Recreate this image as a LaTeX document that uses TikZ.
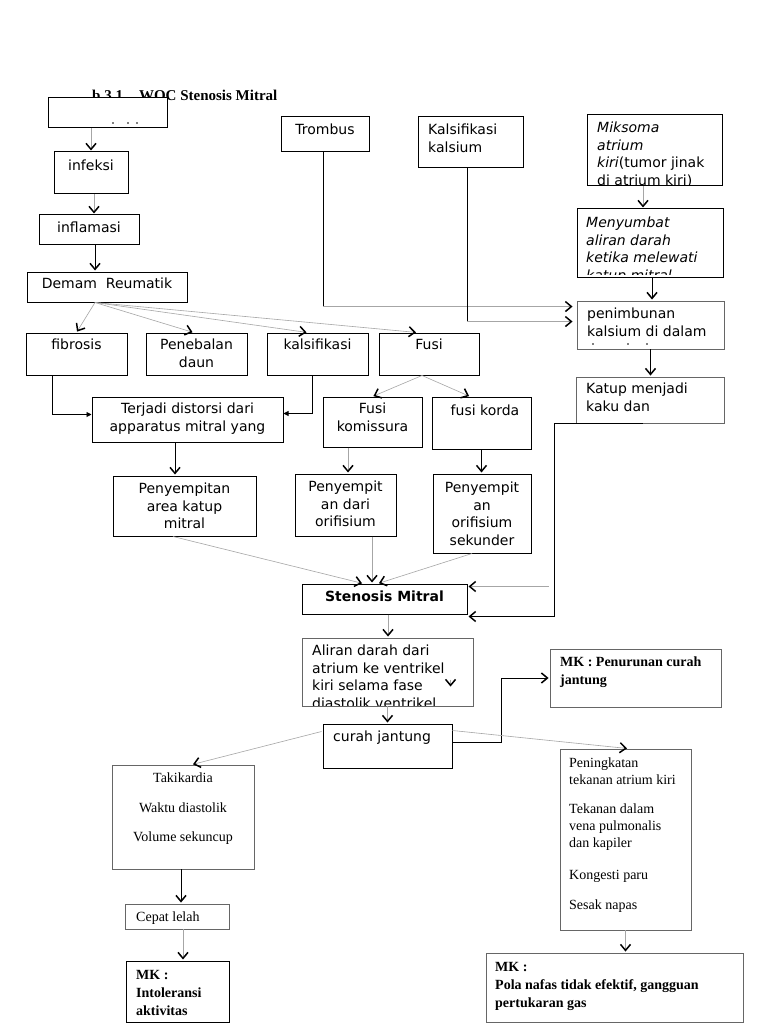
\documentclass[tikz,border=0pt]{standalone}
\usepackage{fontspec}
\setmainfont{Liberation Serif}
\setsansfont{DejaVu Sans}
\usetikzlibrary{arrows.meta,fit,calc}
\tikzset{
  bxk/.style={draw=black, line width=1pt, fill=white, inner sep=0pt},
  bxg/.style={draw=black!60, line width=0.9pt, fill=white, inner sep=0pt},
  st/.style={font=\sffamily\fontsize{14}{17.5}\selectfont, inner sep=0pt, anchor=north},
  stl/.style={st, anchor=north west, align=left},
  stc/.style={st, align=center},
  rmt/.style={font=\rmfamily\fontsize{14}{17}\selectfont, inner sep=0pt, anchor=north},
  rml/.style={rmt, anchor=north west, align=left},
  rmc/.style={rmt, align=center},
  rmb/.style={rml, font=\rmfamily\bfseries\fontsize{14}{18}\selectfont},
  gl/.style={draw=black!35, line width=0.6pt},
  bl/.style={draw=black, line width=0.9pt},
  arr/.style={-{Straight Barb[length=6pt,width=10pt,line width=1.5pt,color=black]}, shorten >=1pt},
  tri/.style={-{Triangle[length=5pt,width=5pt,color=black]}},
}
\begin{document}
\begin{tikzpicture}[x=1pt,y=-1pt]
\fill[white] (0,0) rectangle (768,1024);
\useasboundingbox (0,0) rectangle (768,1024);

% title
\node[anchor=base west, font=\rmfamily\bfseries\fontsize{15}{18}\selectfont, inner sep=0pt] (title) at (92,101) {b.3.1\hspace{16pt}WOC Stenosis Mitral};

% boxes
\node[bxk, fit={(48,98)(167,128)}] (b0) {};
\node[bxk, fit={(54,152)(128,194)}] (infeksi) {};
\node[bxk, fit={(39,215)(139,244)}] (inflamasi) {};
\node[bxk, fit={(27,272)(187,302)}] (demam) {};
\node[bxk, fit={(281,117)(369,152)}] (trombus) {};
\node[bxk, fit={(418,117)(523,168)}] (kalsium) {};
\node[bxk, fit={(587,115)(722,186)}] (miksoma) {};
\node[bxk, fit={(577,209)(723,277)}] (menyumbat) {};
\node[bxg, fit={(577,301)(724,349)}] (penimbunan) {};
\node[bxg, fit={(576,377)(724,423)}] (katup) {};
\node[bxk, fit={(26,333)(127,375)}] (fibrosis) {};
\node[bxk, fit={(146,333)(247,375)}] (penebalan) {};
\node[bxk, fit={(267,333)(368,375)}] (kalsifikasi) {};
\node[bxk, fit={(379,333)(479,375)}] (fusi) {};
\node[bxk, fit={(92,397)(283,442)}] (distorsi) {};
\node[bxk, fit={(323,397)(422,447)}] (komissura) {};
\node[bxk, fit={(432,397)(531,449)}] (korda) {};
\node[bxk, fit={(113,476)(256,536)}] (psA) {};
\node[bxk, fit={(295,474)(396,536)}] (psB) {};
\node[bxk, fit={(433,474)(531,553)}] (psC) {};
\node[bxk, fit={(302,584)(467,614)}] (stenosis) {};
\node[bxg, fit={(302,638)(473,706)}] (aliran) {};
\node[bxk, fit={(323,724)(452,768)}] (curah) {};
\node[bxg, fit={(550,649)(721,707)}] (mk1) {};
\node[bxg, fit={(560,749)(691,930)}] (pening) {};
\node[bxg, fit={(112,765)(254,869)}] (taki) {};
\node[bxg, fit={(125,904)(229,929)}] (cepat) {};
\node[bxk, fit={(126,961)(229,1022)}] (mk2) {};
\node[bxg, fit={(486,953)(743,1022)}] (mk3) {};

% texts
\fill (113,123) circle (0.8) (128,123) circle (0.8) (137,123) circle (0.8);
\node[stc] (tinfeksi) at (91,160) {infeksi};
\node[stc] (tinflamasi) at (89,222) {inflamasi};
\node[stc] (tdemam) at (107,278) {Demam\ \ Reumatik};
\node[stc] (ttrombus) at (325,124) {Trombus};
\node[stl] (tkalsium) at (428,124) {Kalsifikasi\\kalsium};
\begin{scope}
  \clip ($(miksoma.north west)+(1,1)$) rectangle ($(miksoma.south east)+(-1,-1)$);
  \node[stl] (tmiksoma) at (597,122) {\itshape Miksoma\\\itshape atrium\\\textit{kiri}(tumor jinak\\di atrium kiri)};
\end{scope}
\begin{scope}
  \clip ($(menyumbat.north west)+(1,1)$) rectangle ($(menyumbat.south east)+(-1,-3)$);
  \node[stl, font=\sffamily\itshape\fontsize{14}{17.5}\selectfont] (tmenyumbat) at (586,217) {Menyumbat\\aliran darah\\ketika melewati\\katup mitral};
\end{scope}
\node[stl] (tpenimbunan) at (587,308) {penimbunan\\kalsium di dalam};
\fill (593,344) circle (0.8) (628,344) circle (0.8) (647,344) circle (0.8);
\node[stl] (tkatup) at (586,383) {Katup menjadi\\kaku dan};
\node[stc] (tfibrosis) at (76.5,339) {fibrosis};
\node[stc] (tpenebalan) at (196.5,339) {Penebalan\\daun};
\node[stc] (tkalsifikasi) at (317.5,339) {kalsifikasi};
\node[stc] (tfusi) at (429,339) {Fusi};
\node[stc] (tdistorsi) at (187.5,403) {Terjadi distorsi dari\\apparatus mitral yang};
\node[stc] (tkomissura) at (372.5,403) {Fusi\\komissura};
\node[stc] (tkorda) at (485,405) {fusi korda};
\node[stc] (tpsA) at (184.5,483) {Penyempitan\\area katup\\mitral};
\node[stc] (tpsB) at (345.5,481) {Penyempit\\an dari\\orifisium};
\node[stc] (tpsC) at (482,482) {Penyempit\\an\\orifisium\\sekunder};
\node[stc, font=\sffamily\bfseries\fontsize{14}{17.5}\selectfont] (tstenosis) at (384.5,591) {Stenosis Mitral};
\begin{scope}
  \clip ($(aliran.north west)+(1,1)$) rectangle ($(aliran.south east)+(-1,-1)$);
  \node[stl] (taliran) at (312,645) {Aliran darah dari\\atrium ke ventrikel\\kiri selama fase\\diastolik ventrikel};
\end{scope}
\node[stl] (tcurah) at (333,731) {curah jantung};
\node[rmb] (tmk1) at (560,657) {MK : Penurunan curah\\jantung};
\node[rml] (tpen1) at (569,758) {Peningkatan\\tekanan atrium kiri};
\node[rml] (tpen2) at (569,804) {Tekanan dalam\\vena pulmonalis\\dan kapiler};
\node[rml] (tpen3) at (569,870) {Kongesti paru};
\node[rml] (tpen4) at (569,900) {Sesak napas};
\node[rmc] (ttaki1) at (183,773) {Takikardia};
\node[rmc] (ttaki2) at (183,803) {Waktu diastolik};
\node[rmc] (ttaki3) at (183,832) {Volume sekuncup};
\node[rml] (tcepat) at (136,912) {Cepat lelah};
\node[rmb] (tmk2) at (136,970) {MK :\\Intoleransi\\aktivitas};
\node[rmb] (tmk3) at (495,962) {MK :\\Pola nafas tidak efektif, gangguan\\pertukaran gas};

% connectors
\draw[gl,arr] (b0.south -| infeksi.north) -- (infeksi.north);
\coordinate (c1) at ($(infeksi.south)+(3,0)$);
\draw[gl,arr] (c1) -- (c1 |- inflamasi.north);
\coordinate (c2) at ($(inflamasi.south)+(6,0)$);
\draw[bl,arr] (c2) -- (c2 |- demam.north);

\coordinate (dm) at ($(demam.south)+(-12,0)$);
\draw[gl,arr] (dm) -- (fibrosis.north);
\draw[gl,arr] (dm) -- ($(penebalan.north)+(-3,0)$);
\draw[gl,arr] (dm) -- ($(kalsifikasi.north)+(-10,0)$);
\draw[gl,arr] (dm) -- ($(fusi.north)+(-12,0)$);

\coordinate (pinA) at ($(penimbunan.north west)+(0,6)$);
\coordinate (pinB) at ($(penimbunan.north west)+(0,21)$);
\coordinate (trA) at ($(trombus.south)+(-2,0)$);
\coordinate (trB) at (trA |- pinA);
\draw[bl] (trA) -- (trB);
\draw[gl,arr,shorten >=4pt] (trB) -- (pinA);
\coordinate (kaA) at ($(kalsium.south)+(-3.5,0)$);
\coordinate (kaB) at (kaA |- pinB);
\draw[bl] (kaA) -- (kaB);
\draw[gl,arr,shorten >=4pt] (kaB) -- (pinB);

\coordinate (mk) at ($(miksoma.south)+(-11.5,0)$);
\draw[gl,arr] (mk) -- (mk |- menyumbat.north);
\coordinate (my) at ($(menyumbat.south)+(2,0)$);
\draw[bl,arr] (my) -- (my |- penimbunan.north);
\draw[bl,arr] (penimbunan.south) -- (penimbunan.south |- katup.north);

\coordinate (ka1) at ($(katup.south west)+(67,0)$);
\coordinate (ka2) at ($(katup.south west)+(-21,0)$);
\coordinate (st1) at ($(stenosis.south east)+(0,2)$);
\draw[bl,arr] (ka1) -- (ka2) -- (ka2 |- st1) -- (st1);
\coordinate (st2) at ($(stenosis.north east)+(0,3)$);
\coordinate (fr1) at ($(st2)+(81,0)$);
\draw[gl,arr] (fr1) -- (st2);

\coordinate (fb) at ($(fibrosis.south west)+(27,0)$);
\coordinate (ds1) at ($(distorsi.north west)+(0,18)$);
\draw[bl,tri] (fb) -- (fb |- ds1) -- (ds1);
\coordinate (kf) at ($(kalsifikasi.south west)+(46,0)$);
\coordinate (ds2) at ($(distorsi.north east)+(0,17)$);
\draw[bl,tri] (kf) -- (kf |- ds2) -- (ds2);

\coordinate (fs) at ($(fusi.south)+(-7,0)$);
\draw[gl,arr] (fs) -- (komissura.north);
\draw[gl,arr] (fs) -- ($(korda.north)+(-11.5,0)$);

\coordinate (d1) at ($(distorsi.south)+(-12.5,0)$);
\draw[bl,arr] (d1) -- (d1 |- psA.north);
\coordinate (k1) at ($(komissura.south)+(-24.5,0)$);
\draw[gl,arr] (k1) -- (k1 |- psB.north);
\draw[bl,arr] (korda.south) -- (korda.south |- psC.north);

\draw[gl,arr] ($(psA.south)+(-11.5,0)$) -- ($(stenosis.north)+(-21.5,0)$);
\draw[gl,arr] ($(psB.south)+(26.5,0)$) -- ($(stenosis.north)+(-12.5,0)$);
\draw[gl,arr] ($(psC.south)+(-10,0)$) -- ($(stenosis.north)+(-6.5,0)$);

\coordinate (s1) at ($(stenosis.south)+(3.5,0)$);
\draw[gl,arr] (s1) -- (s1 |- aliran.north);
\coordinate (al1) at ($(aliran.north west)+(149,42)$);
\coordinate (al2) at ($(aliran.north west)+(149,50)$);
\draw[gl,arr] (al1) -- (al2);
\draw[gl,arr] (aliran.south) -- (aliran.south |- curah.north);

\coordinate (cu1) at ($(curah.north east)+(0,19)$);
\coordinate (cu2) at ($(cu1)+(49,0)$);
\draw[bl,arr] (cu1) -- (cu2) -- (cu2 |- mk1.west) -- (mk1.west);
\coordinate (cu3) at ($(curah.north west)+(-1,8)$);
\draw[gl,arr] (cu3) -- ($(taki.north)+(9,0)$);
\coordinate (cu4) at ($(curah.north east)+(0,7)$);
\draw[gl,arr] (cu4) -- ($(pening.north)+(2.5,0)$);

\coordinate (t1) at ($(taki.south)+(-2,0)$);
\draw[bl,arr] (t1) -- (t1 |- cepat.north);
\coordinate (c5) at ($(cepat.south)+(6,0)$);
\draw[gl,arr] (c5) -- (c5 |- mk2.north);
\draw[gl,arr] (pening.south) -- (pening.south |- mk3.north);
\end{tikzpicture}
\end{document}
